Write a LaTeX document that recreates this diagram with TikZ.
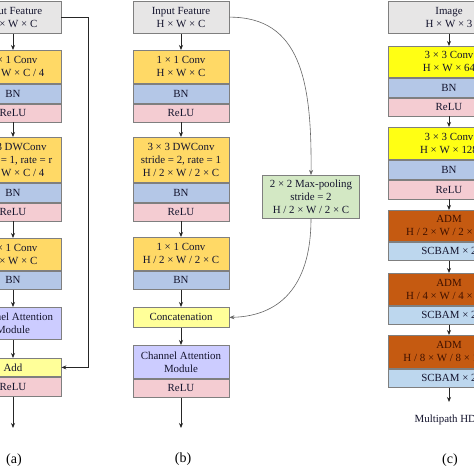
\documentclass[tikz,border=0pt]{standalone}
\usepackage{fontspec}
\setmainfont{Liberation Serif}
\usetikzlibrary{arrows.meta}
\definecolor{grayfill}{HTML}{E7E6E6}
\definecolor{bordergray}{HTML}{7F7F7F}
\definecolor{convy}{HTML}{FFD966}
\definecolor{bnblue}{HTML}{B4C7E7}
\definecolor{relupink}{HTML}{F4CCD2}
\definecolor{camlav}{HTML}{CCCCFF}
\definecolor{addy}{HTML}{FFFF99}
\definecolor{mpgreen}{HTML}{D3E8C4}
\definecolor{brighty}{HTML}{FFFF14}
\definecolor{admbrown}{HTML}{C55A11}
\definecolor{scbam}{HTML}{BDD7EE}
\definecolor{txt}{HTML}{15152E}
\definecolor{admtxt}{HTML}{3F1100}
\tikzset{
  blk/.style={draw=bordergray, line width=0.8pt, inner sep=0pt, align=center, anchor=north,
    text=txt, font=\fontsize{10.9}{13}\selectfont},
  wa/.style={blk, minimum width=96pt},
  wc/.style={blk, minimum width=122pt},
  arr/.style={-{Stealth[length=5pt,width=4pt]}, line width=0.8pt, black!85},
  curvearr/.style={-{Stealth[length=5pt,width=4pt]}, line width=0.6pt, black!60},
  lbl/.style={font=\fontsize{14}{16}\selectfont, text=black}
}
\begin{document}
\begin{tikzpicture}[x=1pt,y=-1pt]
\useasboundingbox (0,0) rectangle (474,474);
\clip (0,0) rectangle (474,474);
\fill[white] (0,0) rectangle (474,474);

% ---------- panel (a) ----------
\node[wa, fill=grayfill, minimum height=32.5] (a1) at (13,0.5) {Input Feature\\H × W × C};
\node[wa, fill=convy, minimum height=33] (a2) at (13,50) {1 × 1 Conv\\H × W × C / 4};
\node[wa, fill=bnblue, minimum height=19] (a3) at (a2.south) {BN};
\node[wa, fill=relupink, minimum height=18] (a4) at (a3.south) {ReLU};
\node[wa, fill=convy, minimum height=45] (a5) at (13,137) {3 × 3 DWConv\\stride = 1, rate = r\\H × W × C / 4};
\node[wa, fill=bnblue, minimum height=19] (a6) at (a5.south) {BN};
\node[wa, fill=relupink, minimum height=18] (a7) at (a6.south) {ReLU};
\node[wa, fill=convy, minimum height=32] (a8) at (13,238) {1 × 1 Conv\\H × W × C};
\node[wa, fill=bnblue, minimum height=18] (a9) at (a8.south) {BN};
\node[wa, fill=camlav, minimum height=32] (a10) at (13,307) {Channel Attention\\Module};
\node[wa, fill=addy, minimum height=18] (a11) at (13,358) {Add};
\node[wa, fill=relupink, minimum height=19] (a12) at (a11.south) {ReLU};
\coordinate (aout) at (13,428);
\coordinate (askip) at (88,0);
\draw[arr] (a1) -- (a2);
\draw[arr] (a4) -- (a5);
\draw[arr] (a7) -- (a8);
\draw[arr] (a9) -- (a10);
\draw[arr] (a10) -- (a11);
\draw[arr] (a12) -- (aout);
\draw[arr] (a1.east) -- (askip |- a1.east) -- (askip |- a11.east) -- (a11.east);
\node[lbl] (la) at (14,460) {(a)};

% ---------- panel (b) ----------
\node[wa, fill=grayfill, minimum height=32.5] (b1) at (181,0.5) {Input Feature\\H × W × C};
\node[wa, fill=convy, minimum height=33] (b2) at (181,50) {1 × 1 Conv\\H × W × C};
\node[wa, fill=bnblue, minimum height=19] (b3) at (b2.south) {BN};
\node[wa, fill=relupink, minimum height=18] (b4) at (b3.south) {ReLU};
\node[wa, fill=convy, minimum height=45] (b5) at (181,137) {3 × 3 DWConv\\stride = 2, rate = 1\\H / 2 × W / 2 × C};
\node[wa, fill=bnblue, minimum height=19] (b6) at (b5.south) {BN};
\node[wa, fill=relupink, minimum height=18] (b7) at (b6.south) {ReLU};
\node[wa, fill=convy, minimum height=33] (b8) at (181,237) {1 × 1 Conv\\H / 2 × W / 2 × C};
\node[wa, fill=bnblue, minimum height=18] (b9) at (b8.south) {BN};
\node[wa, fill=addy, minimum height=20] (b10) at (181,307) {Concatenation};
\node[wa, fill=camlav, minimum height=33] (b11) at (181,345) {Channel Attention\\Module};
\node[wa, fill=relupink, minimum height=18] (b12) at (b11.south) {ReLU};
\coordinate (bout) at (181,428);
\node[blk, fill=mpgreen, minimum width=97pt, minimum height=43] (mp) at (311,175) {2 × 2 Max-pooling\\stride = 2\\H / 2 × W / 2 × C};
\draw[arr] (b1) -- (b2);
\draw[arr] (b4) -- (b5);
\draw[arr] (b7) -- (b8);
\draw[arr] (b9) -- (b10);
\draw[arr] (b10) -- (b11);
\draw[arr] (b12) -- (bout);
\draw[curvearr] (b1.east) .. controls (300,17) and (312,80) .. (mp.north);
\draw[curvearr] (mp.south) .. controls (311,280) and (285,316) .. (b10.east);
\node[lbl] (lb) at (183,459) {(b)};

% ---------- panel (c) ----------
\node[wc, fill=grayfill, minimum height=32.5] (c1) at (449,0.5) {Image\\H × W × 3};
\node[wc, fill=brighty, minimum height=31] (c2) at (449,46) {3 × 3 Conv\\H × W × 64};
\node[wc, fill=bnblue, minimum height=19] (c3) at (c2.south) {BN};
\node[wc, fill=relupink, minimum height=18] (c4) at (c3.south) {ReLU};
\node[wc, fill=brighty, minimum height=32] (c5) at (449,127) {3 × 3 Conv\\H × W × 128};
\node[wc, fill=bnblue, minimum height=19] (c6) at (c5.south) {BN};
\node[wc, fill=relupink, minimum height=19] (c7) at (c6.south) {ReLU};
\node[wc, fill=admbrown, text=admtxt, minimum height=31] (c8) at (449,210) {ADM\\H / 2 × W / 2 × 256};
\node[wc, fill=scbam, minimum height=18] (c9) at (c8.south) {SCBAM × 2};
\node[wc, fill=admbrown, text=admtxt, minimum height=32] (c10) at (449,273) {ADM\\H / 4 × W / 4 × 512};
\node[wc, fill=scbam, minimum height=18] (c11) at (c10.south) {SCBAM × 2};
\node[wc, fill=admbrown, text=admtxt, minimum height=33] (c12) at (449,335) {ADM\\H / 8 × W / 8 × 1024};
\node[wc, fill=scbam, minimum height=18] (c13) at (c12.south) {SCBAM × 2};
\coordinate (cout) at (449,402);
\node[font=\fontsize{10.9}{13}\selectfont, text=txt] (ctxt) at (449,420) {Multipath HDC};
\draw[arr] (c1) -- (c2);
\draw[arr] (c4) -- (c5);
\draw[arr] (c7) -- (c8);
\draw[arr] (c9) -- (c10);
\draw[arr] (c11) -- (c12);
\draw[arr] (c13) -- (cout);
\node[lbl] (lc) at (450,460) {(c)};
\end{tikzpicture}
\end{document}
